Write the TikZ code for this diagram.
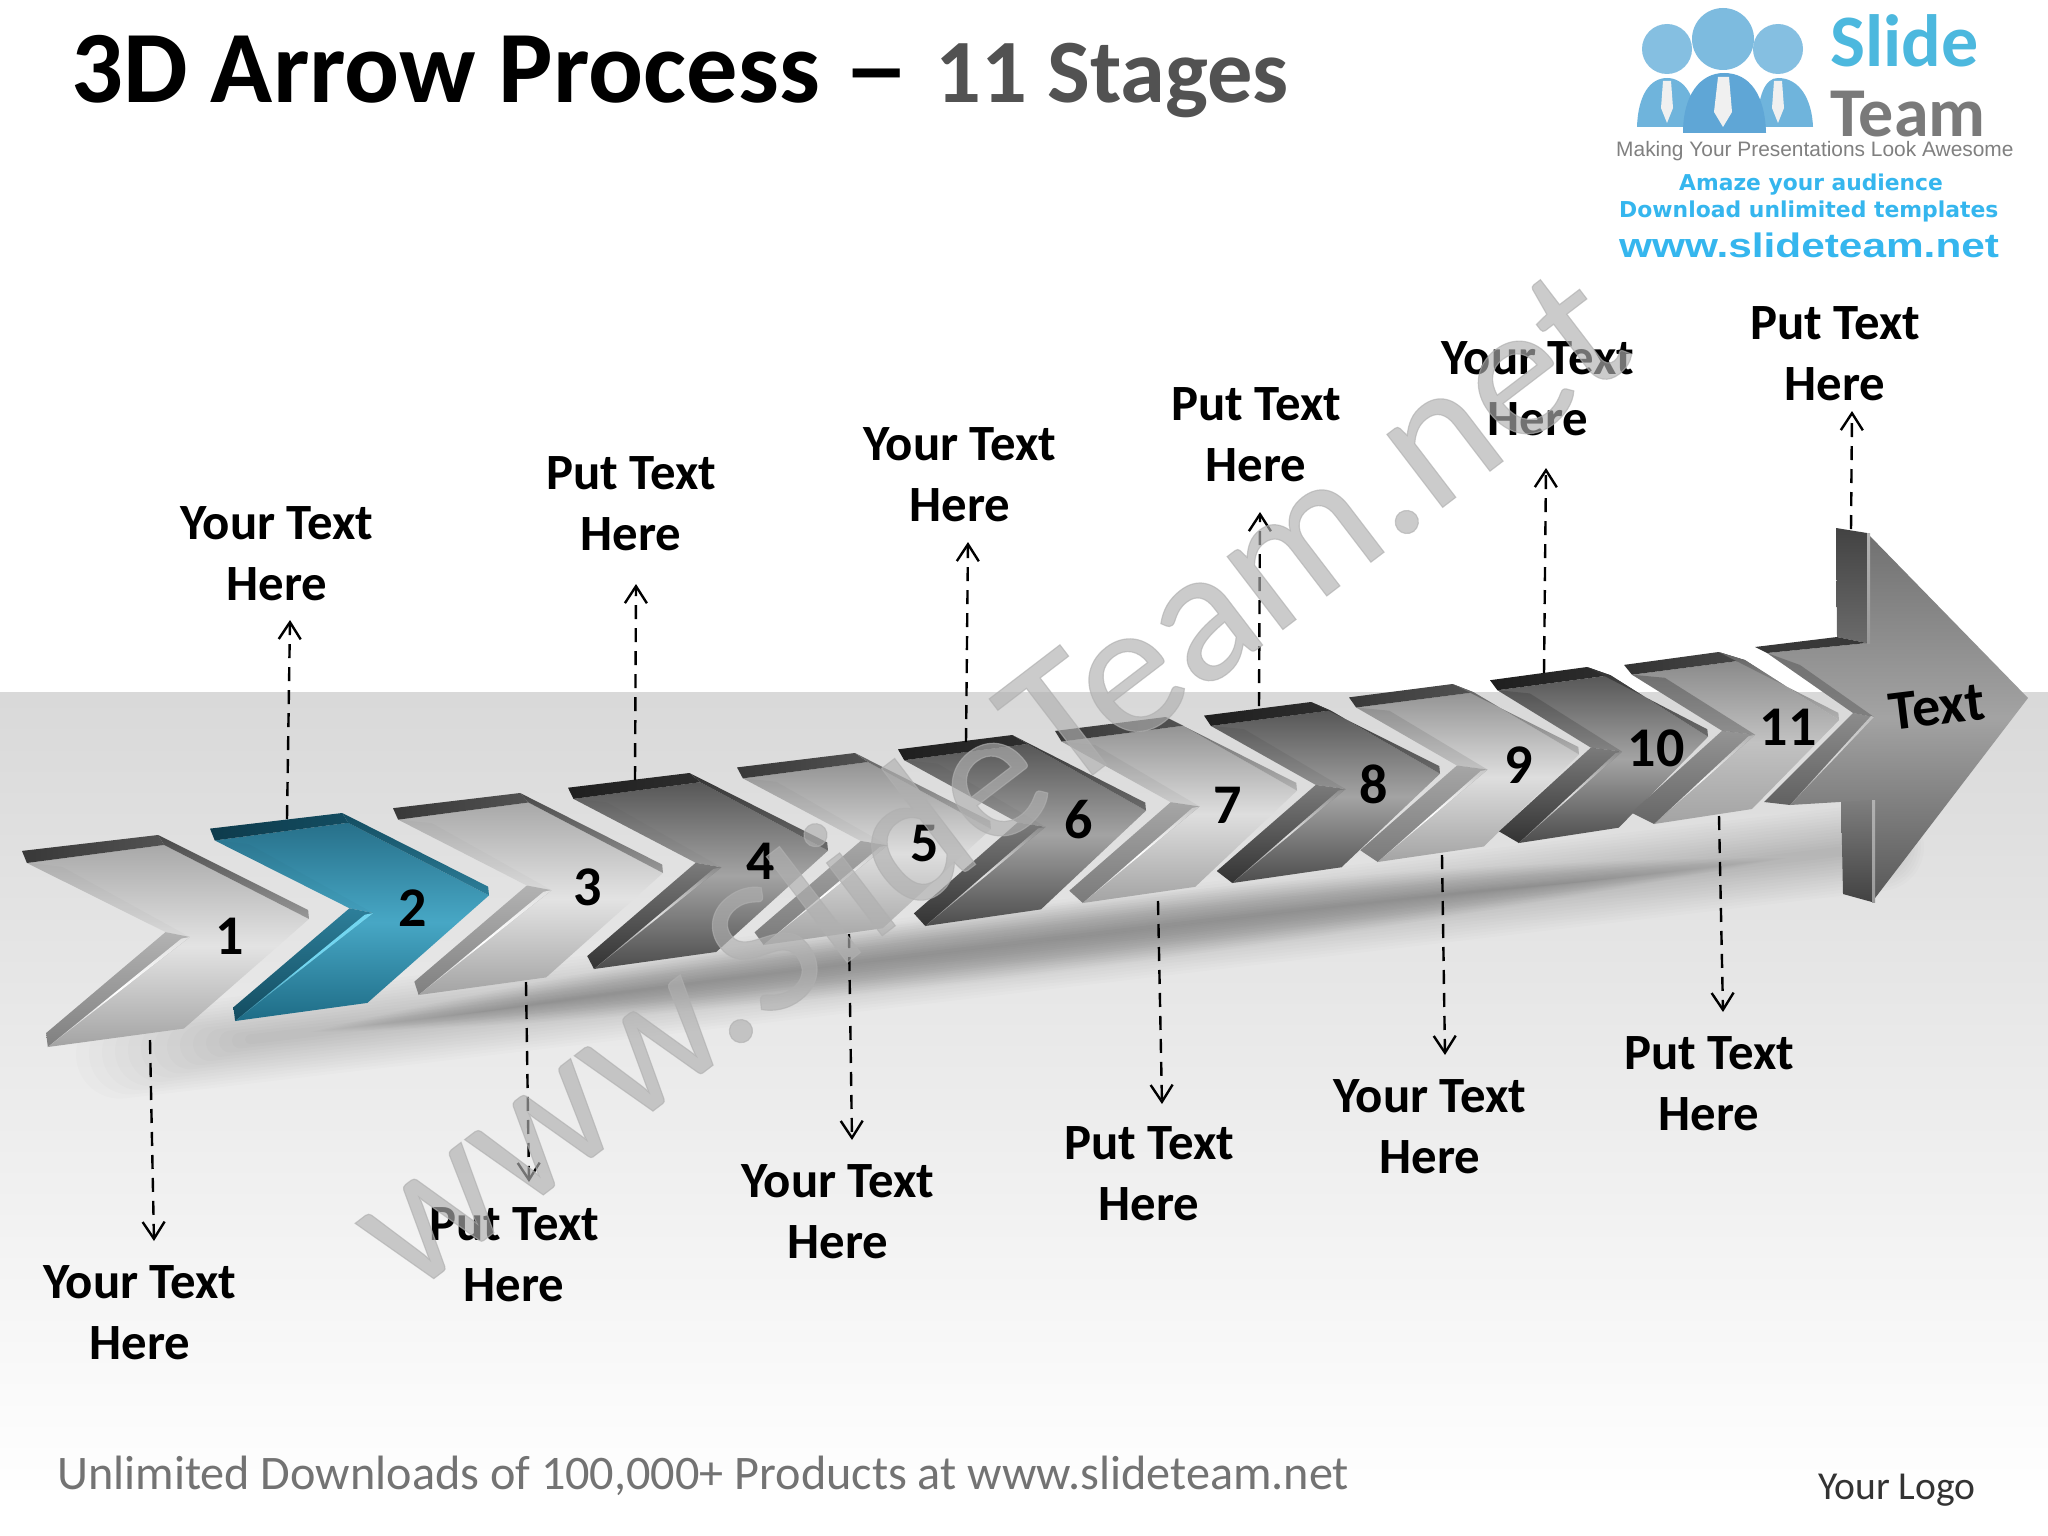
\documentclass[tikz,border=0pt]{standalone}
\usepackage{fontspec}
\setmainfont{Carlito}
\newfontfamily\logowide{DejaVu Sans}
\newfontfamily\logoarial{Liberation Sans}
\newfontfamily\wmfont[FakeBold=0.6]{Carlito}
\usetikzlibrary{arrows.meta}
\definecolor{teal1}{HTML}{27708A}\definecolor{teal2}{HTML}{47A7C5}\definecolor{teal3}{HTML}{1E6C86}
\definecolor{teal4}{HTML}{0E3B4C}\definecolor{teal5}{HTML}{134C60}\definecolor{teal6}{HTML}{2D7F9A}\definecolor{teal7}{HTML}{72D6F0}
\tikzset{
 lightfront/.style={top color=black!34,bottom color=black!36,middle color=black!11},
 lightband/.style={left color=black!78,right color=black!68},
 lightrbev/.style={top color=black!72,bottom color=black!40},
 lightlbev/.style={top color=black!30,bottom color=black!50},
 lighthi/.style={top color=black!12,bottom color=black!25,middle color=white},
 midfront/.style={top color=black!42,bottom color=black!36,middle color=black!13},
 midband/.style={left color=black!78,right color=black!68},
 midrbev/.style={top color=black!62,bottom color=black!30},
 midlbev/.style={top color=black!35,bottom color=black!52},
 midhi/.style={top color=black!22,bottom color=black!25,middle color=white},
 endfront/.style={top color=black!46,bottom color=black!36,middle color=black!24},
 endband/.style={left color=black!80,right color=black!72},
 endrbev/.style={top color=black!62,bottom color=black!30},
 endlbev/.style={top color=black!42,bottom color=black!60},
 endhi/.style={top color=black!30,bottom color=black!35,middle color=black!5},
 darkfront/.style={top color=black!66,bottom color=black!70,middle color=black!36},
 darkband/.style={left color=black!88,right color=black!82},
 darkrbev/.style={top color=black!80,bottom color=black!58},
 darklbev/.style={top color=black!52,bottom color=black!80},
 darkhi/.style={top color=black!45,bottom color=black!55,middle color=black!12},
 tealfront/.style={top color=teal1,bottom color=teal3,middle color=teal2},
 tealband/.style={left color=teal4,right color=teal5},
 tealrbev/.style={top color=teal5,bottom color=teal6},
 teallbev/.style={top color=teal6,bottom color=teal5},
 tealhi/.style={top color=teal7,bottom color=teal6,middle color=teal7},
 lab/.style={font=\fontsize{50.8}{61}\selectfont\bfseries,align=center,text=black,inner sep=0pt,xshift=1pt,yshift=-1pt},
 num/.style={font=\fontsize{56}{60}\selectfont\bfseries,text=black,inner sep=0pt},
 conn/.style={line width=2.4pt,dash pattern=on 14pt off 9pt,-{Straight Barb[length=17pt,width=22pt,line width=2.4pt]}},
 freetext/.style={inner sep=0pt,anchor=base west},
}
% name, x0, y0, w, h, t (0..1), colour scheme
\newcommand{\chev}[7]{%
 \begin{scope}[shift={(#2,#3)},x=#4pt,y=-#5pt]
  \pgfmathsetmacro{\bu}{.474-.034*#6}
  \pgfmathsetmacro{\ju}{.495+.068*#6}
  \pgfmathsetmacro{\eu}{.564+.031*#6}
  \pgfmathsetmacro{\fu}{.09+.05*#6}
  \pgfmathsetmacro{\gu}{.084-.05*#6}
  \pgfmathsetmacro{\hu}{.5-.044*#6}
  \pgfmathsetmacro{\ku}{.585+.025*#6}
  \pgfmathsetmacro{\iu}{.017+.02*#6}
  \pgfmathsetmacro{\su}{.14+.05*#6}
  \pgfmathsetmacro{\nop}{.02+.22*#6*#6*#6}
  \coordinate (#1A) at (0,.075); \coordinate (#1I) at (\iu,.132);
  \coordinate (#1B) at (\bu,0); \coordinate (#1J) at (\ju,.047);
  \coordinate (#1C) at (.997,.354); \coordinate (#1D) at (1,.396);
  \coordinate (#1E) at (\eu,.913); \coordinate (#1F) at (\fu,1);
  \coordinate (#1G) at (\gu,.934); \coordinate (#1H) at (\hu,.458);
  \coordinate (#1K) at (\ku,.481);
  \shade[#7front] (#1I)--(#1J)--(#1D)--(#1E)--(#1F)--(#1K)--(#1H)--cycle;
  \shade[#7band] (#1A)--(#1B)--(#1J)--(#1I)--cycle;
  \shade[#7rbev] (#1B)--(#1C)--(#1D)--(#1J)--cycle;
  \shade[#7lbev] (#1G)--(#1H)--(#1K)--(#1F)--cycle;
  \fill[black,opacity=\nop] (#1I)--(#1H)--(#1K)--(\su,.15)--cycle;
  \path (#1K) ++(-.03,.008) coordinate (#1Ka);
  \shade[#7hi] (#1Ka)--(#1K)--(#1F)--cycle;
 \end{scope}}
\begin{document}
\begin{tikzpicture}[x=1pt,y=-1pt]
\useasboundingbox (0,0) rectangle (2048,1536);
\fill[white] (0,0) rectangle (2048,1536);
\shade[top color=black!15,bottom color=white] (0,692) rectangle (2048,1500);
% soft ground shadow
\foreach \k in {1,...,14}{
 \pgfmathsetmacro{\w}{4+6*(15-\k)}
 \pgfmathsetmacro{\xs}{110+\k*10}
 \pgfmathsetmacro{\ys}{1053-.118*(\xs-134)}
 \draw[black,opacity=.011,line width=\w pt,line cap=round] (\xs,\ys) -- (1880,847);
}
\foreach \k in {1,...,18}{
 \pgfmathsetmacro{\w}{48*(1-\k/19)}
 \pgfmathsetmacro{\xl}{300+\k*10}
 \pgfmathsetmacro{\xr}{1800-\k*12}
 \pgfmathsetmacro{\yl}{1053-.118*(\xl-134)}
 \pgfmathsetmacro{\yr}{1053-.118*(\xr-134)}
 \fill[black,opacity=.011] (\xl,\yl) .. controls (700,980-\w) and (1300,905-\w) .. (\xr,\yr)
   .. controls (1300,905+\w) and (700,980+\w) .. cycle;
}
% chevrons
\chev{c1}{22}{835}{287}{212}{0}{light}
\chev{c2}{210}{813}{279}{208}{0}{teal}
\chev{c3}{393}{793}{270}{202}{0.1}{light}
\chev{c4}{568}{773}{260}{196}{0.2}{dark}
\chev{c5}{737}{753}{254}{192}{0.3}{mid}
\chev{c6}{898}{735}{248}{191}{0.4}{dark}
\chev{c7}{1055}{717}{242}{186}{0.5}{mid}
\chev{c8}{1204}{702}{236}{181}{0.6}{dark}
\chev{c9}{1349}{684}{230}{178}{0.7}{mid}
\chev{c10}{1490}{667}{218}{176}{0.85}{dark}
\chev{c11}{1624}{652}{215}{172}{1}{end}
% big arrow
\shade[top color=black!74,bottom color=black!58] (1836,528)--(1867,533)--(1867,643)--(1837,637)--cycle;
\shade[top color=black!50,bottom color=black!74] (1841,798)--(1872,800)--(1872,902)--(1843,894)--cycle;
\shade[top color=black!56,bottom color=black!66,middle color=black!36] (1767,653)--(1867,643)--(1867,533)--(2028,698)--(1872,902)--(1872,800)--(1790,805)--(1874,717)--(1853,713)--cycle;
\fill[black!78] (1755,647)--(1837,637)--(1867,643)--(1767,653)--cycle;
\shade[top color=black!45,bottom color=black!62] (1764,802)--(1853,713)--(1874,717)--(1790,805)--cycle;
\fill[black,opacity=.22] (1767,653)--(1853,713)--(1874,717)--(1800,665)--cycle;
\shade[top color=black!30,bottom color=black!40] (1867,533)--(1870,533)--(1870,643)--(1867,643)--cycle;
\shade[top color=black!30,bottom color=black!40] (1872,800)--(1875,800)--(1875,902)--(1872,902)--cycle;
\shade[top color=black!25,bottom color=black!40,middle color=black!15] (1874,717)--(1871,716)--(1790,805)--cycle;
\coordinate (arrowtop) at (1851,529);
% numbers
\node[num] (n1) at (230,936) {1};
\node[num] (n2) at (413,908) {2};
\node[num] (n3) at (588,887) {3};
\node[num] (n4) at (761,861) {4};
\node[num] (n5) at (925,844) {5};
\node[num] (n6) at (1079,820) {6};
\node[num] (n7) at (1228,805) {7};
\node[num] (n8) at (1374,784) {8};
\node[num] (n9) at (1519,765) {9};
\node[num] (n10) at (1656,748) {10};
\node[num] (n11) at (1788,727) {11};
\node[num,rotate=7] (n12) at (1937,707) {Text};
% connector ends
\coordinate (s1) at (150,1040); \coordinate (e1) at (154,1241);
\coordinate (s2) at (287,819);  \coordinate (e2) at (290,620);
\coordinate (s3) at (526,982);  \coordinate (e3) at (529,1182);
\coordinate (s4) at (635,780);  \coordinate (e4) at (636,584);
\coordinate (s5) at (849,934);  \coordinate (e5) at (852,1140);
\coordinate (s6) at (966,742);  \coordinate (e6) at (968,542);
\coordinate (s7) at (1158,901); \coordinate (e7) at (1162,1104);
\coordinate (s8) at (1259,706); \coordinate (e8) at (1260,512);
\coordinate (s9) at (1442,855); \coordinate (e9) at (1445,1055);
\coordinate (s10) at (1544,673);\coordinate (e10) at (1546,468);
\coordinate (s11) at (1719,816);\coordinate (e11) at (1723,1012);
\coordinate (e12) at (1852,411);
\foreach \i in {1,...,11}{\draw[conn] (s\i) -- (e\i);}
\draw[conn] (arrowtop) -- (e12);
% labels
\node[lab] (l1) at (139,1312) {Your Text\\Here};
\node[lab] (l2) at (276,553) {Your Text\\Here};
\node[lab] (l3) at (513,1254) {Put Text\\Here};
\node[lab] (l4) at (630,503) {Put Text\\Here};
\node[lab] (l5) at (837,1211) {Your Text\\Here};
\node[lab] (l6) at (959,474) {Your Text\\Here};
\node[lab] (l7) at (1148,1173) {Put Text\\Here};
\node[lab] (l8) at (1255,434) {Put Text\\Here};
\node[lab] (l9) at (1429,1126) {Your Text\\Here};
\node[lab] (l10) at (1537,388) {Your Text\\Here};
\node[lab] (l11) at (1708,1083) {Put Text\\Here};
\node[lab] (l12) at (1834,353) {Put Text\\Here};
% title
\node[freetext,font=\fontsize{102.5}{110}\selectfont\bfseries] (t1) at (71,103) {3D Arrow Process \scalebox{1.3}[1]{–}};
\node[freetext,font=\fontsize{90.5}{100}\selectfont\bfseries,text=black!68] (t2) at (935,103) {11 Stages};
% footer
\node[freetext,font=\fontsize{48.2}{50}\selectfont,text=black!55] (f1) at (57,1489) {Unlimited Downloads of 100,000+ Products at www.slideteam.net};
\node[freetext,font=\fontsize{39.6}{42}\selectfont,text=black!80] (f2) at (1818,1499) {Your Logo};
% logo
\definecolor{logoblue}{HTML}{6FB4DC}\definecolor{logodark}{HTML}{5FA6D6}\definecolor{logotxt}{HTML}{35B6EE}
\fill[logoblue] (1637,127) .. controls (1638,95) and (1650,78) .. (1667,78) .. controls (1684,78) and (1696,95) .. (1697,127) -- cycle;
\fill[logoblue] (1757,127) .. controls (1758,95) and (1765,78) .. (1778,78) .. controls (1800,78) and (1812,100) .. (1813,127) -- cycle;
\fill[logoblue!85] (1667,49) circle (25);
\fill[logoblue!85] (1778,49) circle (25);
\fill[logodark] (1683,133) .. controls (1683,95) and (1700,73) .. (1724,73) .. controls (1750,73) and (1765,95) .. (1766,133) -- cycle;
\fill[logoblue!90] (1723,39) circle (31);
\fill[white!94!black] (1663,81)--(1671,81)--(1673,108)--(1667,123)--(1661,108)--cycle;
\fill[white!94!black] (1774,81)--(1782,81)--(1784,108)--(1778,123)--(1772,108)--cycle;
\fill[white!94!black] (1718,77)--(1729,77)--(1732,112)--(1723,127)--(1714,112)--cycle;
\node[freetext,font=\fontsize{74}{76}\selectfont\bfseries,text=logodark!80!cyan] (lg1) at (1830,67) {Slide};
\node[freetext,font=\fontsize{70}{72}\selectfont\bfseries,text=black!52] (lg2) at (1830,136) {Team};
\node[freetext,font=\fontsize{20.9}{24}\selectfont\logoarial,text=black!50] (lg3) at (1616,157) {Making Your Presentations Look Awesome};
\node[freetext,font=\fontsize{21.8}{24}\selectfont\logowide\bfseries,text=logotxt] (lg4) at (1679,190) {Amaze your audience};
\node[freetext,font=\fontsize{21.9}{24}\selectfont\logowide\bfseries,text=logotxt] (lg5) at (1619,217) {Download unlimited templates};
\node[freetext,font=\fontsize{34}{40}\selectfont\logoarial\bfseries,text=logotxt] (lg6) at (1619,257) {\scalebox{1.246}[1]{www.slideteam.net}};
% watermark
\node[inner sep=0pt,rotate=37.4,font=\fontsize{192}{196}\selectfont\wmfont,text=black!31,text opacity=.65] (wm) at (984,775) {www.SlideTeam.net};
\end{tikzpicture}
\end{document}
